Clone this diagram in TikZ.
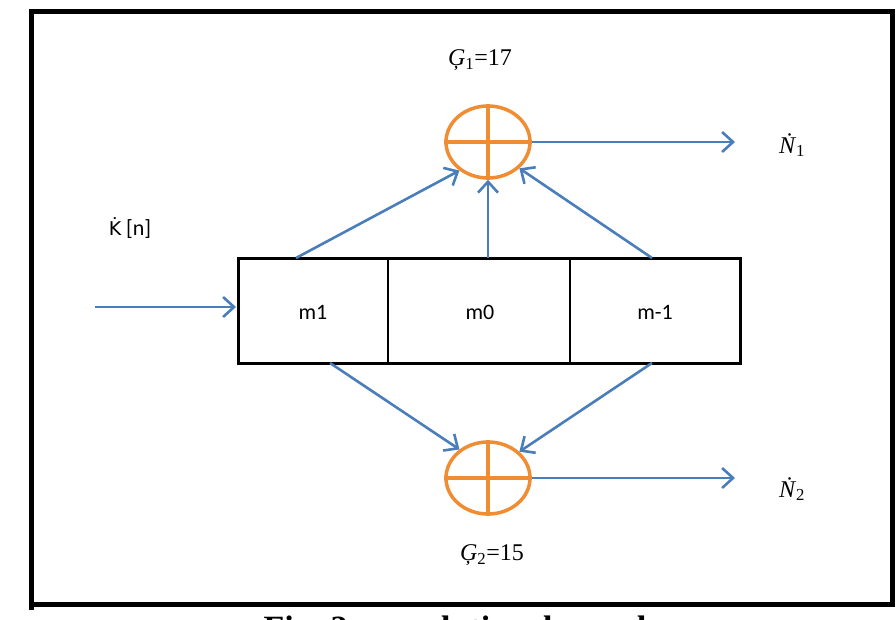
\documentclass[tikz,border=0pt]{standalone}
\usepackage{fontspec}
\setmainfont{Liberation Serif}
\newfontfamily\calib{Carlito}
\newfontfamily\dvs{DejaVu Sans}
\usetikzlibrary{arrows.meta,shapes.geometric}
\definecolor{ablue}{RGB}{74,126,187}
\definecolor{aorange}{RGB}{240,140,50}
\tikzset{
  conn/.style={draw=ablue,line width=2.6pt,-{Straight Barb[length=11pt,width=20pt,line width=2.6pt]}},
  adder/.style={ellipse,draw=aorange,line width=3.5pt,minimum width=84pt,minimum height=72pt,inner sep=0pt},
  cell/.style={font=\calib\fontsize{22}{22}\selectfont},
  lbl/.style={font=\fontsize{24}{24}\selectfont}
}
\begin{document}
\begin{tikzpicture}[x=1pt,y=-1pt]
\useasboundingbox (0,0) rectangle (896,620);
\draw[line width=5pt] (31,610) -- (31,12) -- (892,12) -- (892,604) -- (31,604);
\begin{scope}
\clip (0,0) rectangle (896,620);
\node[font=\bfseries\fontsize{34}{34}\selectfont,anchor=north] (cap) at (470,612) {Fig. 2 convolutional encoder};
\end{scope}
\draw[line width=3pt] (238,258) rectangle (740,363);
\draw[line width=1.2pt] (388,258) -- (388,363) (570,258) -- (570,363);
\node[cell] (m1) at (313,312) {m1};
\node[cell] (m0) at (480,312) {m0};
\node[cell] (mm) at (655,312) {m-1};
\coordinate (t1) at (296,258); \coordinate (t2) at (488,258); \coordinate (t3) at (652,258);
\coordinate (b1) at (330,363); \coordinate (b3) at (652,363);
\coordinate (in) at (95,307); \coordinate (inE) at (236,307);
\node[adder] (A1) at (488,142) {};
\node[adder] (A2) at (488,478) {};
\draw[aorange,line width=3.5pt] (A1.north) -- (A1.south) (A1.west) -- (A1.east);
\draw[aorange,line width=3.5pt] (A2.north) -- (A2.south) (A2.west) -- (A2.east);
\coordinate (o1) at (735,142); \coordinate (o2) at (735,478);
\draw[conn] (in) -- (inE);
\draw[conn] (t1) -- (A1.-135);
\draw[conn] (t2) -- (A1.south);
\draw[conn] (t3) -- (A1.-40);
\draw[conn] (A1.east) -- (o1);
\draw[conn] (b1) -- (A2.135);
\draw[conn] (b3) -- (A2.40);
\draw[conn] (A2.east) -- (o2);
\node[lbl] (g1) at (480,60) {\textit{Ģ}\textsubscript{1}=17};
\node[lbl] (g2) at (492,555) {\textit{Ģ}\textsubscript{2}=15};
\node[lbl] (n1) at (792,145) {\textit{Ṅ}\textsubscript{1}};
\node[lbl] (n2) at (792,489) {\textit{Ṅ}\textsubscript{2}};
\node[font=\calib\fontsize{22}{22}\selectfont] (k) at (130,228) {{\dvs\fontsize{19}{19}\selectfont K̇} [n]};
\end{tikzpicture}
\end{document}
